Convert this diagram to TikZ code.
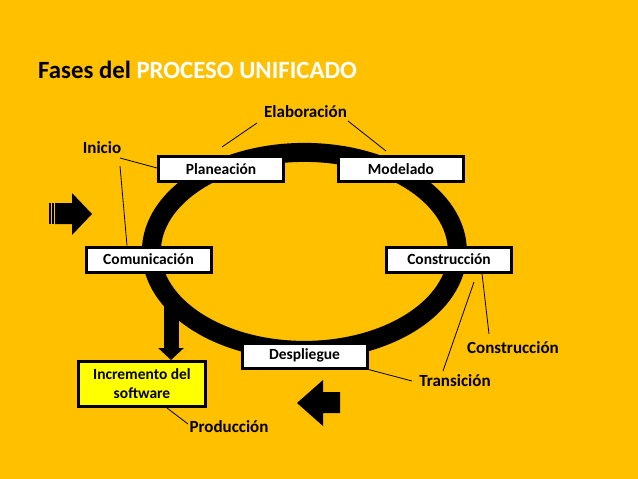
\documentclass[tikz,border=0pt]{standalone}
\usepackage{fontspec}
\setmainfont{Carlito}
\usetikzlibrary{arrows.meta,positioning}
\usepackage{xcolor}
\definecolor{gold}{HTML}{FFC000}
\definecolor{lemon}{HTML}{FFFF00}
\tikzset{
  pbox/.style={draw=black,fill=white,line width=3pt,minimum width=125pt,
    minimum height=25pt,inner sep=0pt,font=\fontsize{15.5}{19}\selectfont\bfseries},
  ibox/.style={pbox,fill=lemon,minimum width=127pt,minimum height=45pt,align=center},
  plabel/.style={anchor=base,inner sep=0pt,font=\fontsize{17}{20}\selectfont\bfseries},
  leader/.style={line width=0.8pt,color=black},
  ring/.style={line width=19pt,color=black},
  stem/.style={line width=15pt,color=black,-{Triangle[length=12pt,width=25pt]}},
}
\begin{document}
\begin{tikzpicture}[x=1pt,y=-1pt]
  \fill[gold] (0,0) rectangle (638,479);
  \useasboundingbox (0,0) rectangle (638,479);
  \node[anchor=base west,inner sep=0pt,font=\fontsize{24.8}{28}\selectfont\bfseries] (title) at (38,78)
    {Fases del \textcolor{white}{PROCESO UNIFICADO}};
  % the cycle
  \draw[ring] (304.4,251.4) ellipse [x radius=153, y radius=99];
  \coordinate (stemtop) at (171,299);
  \node[pbox] (plan) at (221,169){Planeación}; \node[pbox] (model) at (401,169){Modelado};
  \node[pbox] (comu) at (148.5,259.5){Comunicación}; \node[pbox] (cons) at (449,259.5){Construcción};
  \node[pbox] (desp) at (304.5,355.5){Despliegue};
  \node[ibox] (inc) at (142,384){Incremento del\\software};
  \draw[stem] (stemtop)--(stemtop |- inc.north);
  % phase labels
  \node[plabel] (elab) at (305.5,117){Elaboración}; \node[plabel] (ini) at (102,153){Inicio};
  \node[plabel] (consl) at (513,353){Construcción}; \node[plabel] (tran) at (455,386){Transición};
  \node[plabel] (prod) at (229,432){Producción};
  \coordinate (e1) at (257,123); \coordinate (e2) at (222,147);
  \coordinate (e3) at (348,121); \coordinate (e4) at (386,151);
  \coordinate (i1) at (120,158); \coordinate (i2) at (120,166);
  \coordinate (c1) at (489,334); \coordinate (t1) at (474,282);
  \coordinate (t2) at (443,371); \coordinate (t3) at (412,381);
  \coordinate (p1) at (188,424);
  \draw[leader] (e1)--(e2); \draw[leader] (e3)--(e4);
  \draw[leader] (i1)--(plan.west |- 0,168); \draw[leader] (i2)--(comu.north -| 127,0);
  \draw[leader] (cons.south -| 482,0)--(c1); \draw[leader] (t1)--(t2);
  \draw[leader] (desp.south east)--(t3); \draw[leader] (inc.south -| 167,0)--(p1);
  % block arrows
  \fill (49,203) rectangle (50.5,224); \fill (52,203) rectangle (53.5,224);
  \fill (55,203)--(72,203)--(72,193)--(92,214)--(72,235)--(72,224)--(55,224)--cycle;
  \fill (340,392)--(323,392)--(323,380)--(297,403)--(323,426)--(323,413)--(340,413)--cycle;
\end{tikzpicture}
\end{document}
